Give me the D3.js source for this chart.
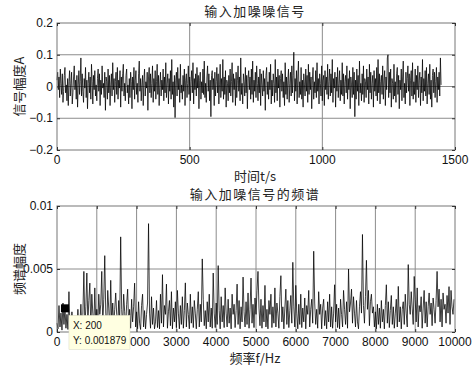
<!DOCTYPE html>
<html>
<head>
<meta charset="utf-8">
<script src="https://cdn.jsdelivr.net/npm/d3@7"></script>
<style>
  body { margin: 0; background: #fff; }
  svg text { font-family: "Liberation Sans", Arial, sans-serif; }
  .cjk { font-family: "Noto Sans CJK SC", sans-serif; }
</style>
</head>
<body>
<svg id="chart" width="474" height="366"></svg>
<script>
// time signal, one sample every 2.5 s, amplitude in units of 0.001
var tStep = 2.5;
var signalMilli = [
  20, 45, -10, 30, -35, 55, 10, -25, 40, -50,
  -15, 35, 60, -20, 5, -45, 25, -60, 15, 50,
  -30, 10, 45, -55, -20, 30, 65, -10, 20, -40,
  35, -65, 5, 50, -25, 15, 90, -30, 40, -15,
  -50, 25, -5, 60, -35, 20, -70, 10, 45, -20,
  30, -40, 70, 15, -55, 35, -10, 50, -30, 5,
  -45, 25, 55, -15, 40, -60, 20, -25, 65, -5,
  10, -35, 45, -75, 30, 15, -40, 55, -20, 35,
  -60, 5, 40, -30, 75, -10, 25, -50, 15, 45,
  -25, 60, -40, 20, -5, 50, -65, 30, -15, 40,
  70, -30, 10, -45, 35, 55, -20, 5, -55, 25,
  -35, 45, 15, -70, 30, -10, 60, -40, 20, 50,
  -25, 10, -50, 40, 80, -15, 25, -45, 5, 35,
  -60, 20, 55, -30, 15, -5, 45, -75, 30, 60,
  -20, 40, -35, 10, 65, -50, 25, -15, 50, -40,
  15, 70, -25, 35, -60, 5, 45, -30, 20, -10,
  55, -45, 30, -20, 75, -35, 10, 40, -55, 25,
  -15, 50, -40, 85, -25, 15, -65, 35, -98, 20,
  45, -30, 60, -10, 25, -50, 70, -20, 5, -40,
  35, -15, 55, -60, 20, 40, -35, 10, 65, -25,
  30, -45, 15, 50, -20, 75, -55, 25, -10, 40,
  -30, 60, -5, 35, -70, 20, 45, -40, 15, -20,
  55, -25, 80, -35, 10, -50, 30, 65, -15, 40,
  -45, 20, -95, 35, 50, -10, 25, -60, 45, -30,
  15, 60, -20, 40, -55, 5, 70, -35, 25, -15,
  85, -40, 30, -25, 50, -65, 20, 10, -45, 35,
  -20, 55, -30, 15, 75, -50, 40, -10, 25, -60,
  45, -35, 20, 65, -15, 30, -45, 90, -25, 10,
  -55, 40, 15, -30, 60, -20, 35, -70, 25, 50,
  -10, 30, -40, 55, -25, 80, -50, 20, -15, 45,
  -35, 65, 10, -45, 30, -20, 55, -60, 40, 5,
  -30, 50, -15, 25, -75, 35, 60, -25, 15, -40,
  45, -10, 70, -55, 20, -30, 40, 10, -50, 85,
  -20, 30, -45, 55, -5, 35, -65, 25, 50, -15,
  40, -35, 15, -60, 75, -25, 30, -40, 20, 55,
  -50, 10, 45, -30, 65, -20, 35, 108, -45, 25,
  -15, 50, -55, 30, 80, -35, 15, -25, 60, -40,
  20, -65, 40, 5, -30, 55, -15, 35, -50, 70,
  -25, 45, -10, 30, -70, 20, 60, -40, 15, -20,
  50, -35, 75, -15, 25, -55, 40, 10, -30, 65,
  -45, 20, 35, -60, 50, -10, 30, -25, 70, -40,
  15, 55, -30, 40, -20, 85, -50, 25, -5, 45,
  -65, 30, -15, 60, -35, 10, 50, -45, 20, -25,
  75, -30, 40, -55, 15, 35, -20, 65, -40, 25,
  -10, 50, -70, 30, 5, -35, 60, -25, 45, -95,
  20, -40, 55, -15, 35, -60, 80, -20, 10, -45,
  40, -25, 65, -50, 25, 15, -35, 55, -10, 30,
  -55, 70, -20, 45, -40, 10, 35, -65, 50, -15,
  25, -30, 60, -45, 85, -20, 40, -55, 15, 35,
  -25, 65, -40, 20, 50, -60, 30, -10, 90, 100,
  -35, 45, -20, 55, -65, 25, 10, -40, 70, -30,
  15, -50, 40, 60, -25, 35, -70, 20, -10, 55,
  -45, 30, 80, -35, 10, -55, 45, -20, 25, 65,
  -15, 40, -60, 20, 50, -30, 75, -40, 15, -25,
  55, -50, 35, -10, 65, -35, 20, 45, -60, 30,
  -20, 85, -45, 25, -15, 50, -30, 60, -55, 10,
  40, -25, 70, -40, 20, -65, 35, 55, -20, 45,
  -35, 15, 60, -50, 30, -10, 45, -30, 90, 5
];

// spectrum, one bin every 25 Hz, magnitude in units of 1e-5
var fStep = 25;
var spectrumE5 = [
  70, 25, 210, 40, 150, 15, 230, 60, 188, 30, 140, 20, 320, 40, 12, 160, 25, 70, 8, 35,
  15, 180, 12, 60, 220, 25, 140, 481, 40, 200, 468, 70, 250, 388, 30, 300, 150, 25, 350, 60,
  180, 40, 300, 140, 220, 481, 50, 260, 606, 150, 35, 330, 190, 25, 410, 70, 230, 40, 180, 310,
  140, 30, 250, 70, 755, 180, 40, 300, 160, 25, 220, 340, 60, 180, 30, 260, 80, 200, 388, 40,
  160, 25, 240, 70, 20, 210, 300, 40, 170, 25, 140, 230, 860, 150, 30, 280, 60, 190, 25, 80,
  250, 35, 170, 25, 300, 70, 455, 40, 210, 140, 380, 30, 160, 250, 50, 320, 25, 190, 80, 240,
  35, 330, 150, 25, 210, 60, 280, 30, 170, 390, 40, 230, 140, 25, 300, 70, 200, 35, 250, 150,
  25, 180, 320, 40, 220, 80, 580, 260, 50, 170, 25, 240, 80, 300, 40, 190, 30, 468, 150, 35,
  230, 60, 527, 170, 25, 280, 80, 210, 35, 350, 150, 40, 260, 70, 190, 25, 300, 140, 220, 35,
  170, 380, 60, 250, 25, 200, 80, 436, 160, 40, 240, 60, 310, 30, 180, 428, 70, 220, 35, 270,
  140, 330, 481, 190, 50, 260, 30, 210, 80, 370, 40, 180, 25, 250, 140, 300, 35, 200, 70, 350,
  40, 230, 150, 30, 280, 447, 80, 200, 25, 190, 340, 60, 250, 35, 170, 290, 70, 553, 200, 40,
  370, 150, 25, 220, 60, 300, 35, 190, 80, 270, 25, 210, 140, 330, 40, 180, 260, 70, 641, 230,
  60, 180, 30, 320, 140, 220, 25, 190, 260, 50, 170, 25, 240, 80, 300, 40, 200, 30, 150, 375,
  80, 220, 35, 190, 25, 260, 140, 40, 330, 180, 60, 240, 30, 500, 160, 230, 340, 70, 280, 150,
  40, 250, 80, 25, 200, 320, 150, 774, 210, 70, 280, 569, 180, 330, 50, 240, 300, 150, 200, 40,
  160, 25, 220, 60, 190, 30, 250, 80, 180, 25, 210, 375, 70, 240, 35, 170, 290, 60, 200, 30,
  150, 260, 40, 362, 80, 200, 25, 180, 240, 60, 300, 150, 40, 535, 220, 140, 320, 190, 60, 441,
  260, 80, 350, 40, 210, 160, 280, 30, 190, 330, 70, 240, 40, 200, 310, 140, 230, 50, 270, 180,
  70, 250, 481, 200, 340, 80, 260, 40, 310, 180, 220, 70, 290, 150, 360, 60, 330, 200, 140, 260
];

var timeTicks = [0, 500, 1000, 1500];
var ampTicks = [-0.2, -0.1, 0, 0.1, 0.2];
var freqTicks = [0, 1000, 2000, 3000, 4000, 5000, 6000, 7000, 8000, 9000, 10000];
var specTicks = [0, 0.005, 0.01];
var tipPoint = { f: 200, v: 0.001879 };

var svg = d3.select("#chart");

// Draw one MATLAB style box axes
function drawPanel(o) {
  var g = svg.append("g");
  var x = d3.scaleLinear().domain(o.xDomain).range([57, 455]);
  var y = d3.scaleLinear().domain(o.yDomain).range([o.bottom, o.top]);

  // grid
  g.selectAll(".vg").data(o.xTicks.slice(1, -1)).enter().append("line")
    .attr("x1", d => x(d)).attr("x2", d => x(d))
    .attr("y1", o.top).attr("y2", o.bottom)
    .attr("stroke", "#8c8c8c").attr("stroke-width", 1);
  g.selectAll(".hg").data(o.yTicks.slice(1, -1)).enter().append("line")
    .attr("x1", 57).attr("x2", 455)
    .attr("y1", d => y(d)).attr("y2", d => y(d))
    .attr("stroke", "#8c8c8c").attr("stroke-width", 1);

  // data line
  var line = d3.line().x(d => x(d[0])).y(d => y(d[1]));
  g.append("path").datum(o.points)
    .attr("d", line)
    .attr("fill", "none")
    .attr("stroke", "#000")
    .attr("stroke-width", 0.75);

  // box
  g.append("rect")
    .attr("x", 57).attr("y", o.top)
    .attr("width", 398).attr("height", o.bottom - o.top)
    .attr("fill", "none").attr("stroke", "#777").attr("stroke-width", 1);

  // ticks inside, all four sides
  var xb = d3.axisBottom(x).tickValues(o.xTicks).tickSize(-3).tickFormat("");
  var xt = d3.axisTop(x).tickValues(o.xTicks).tickSize(-3).tickFormat("");
  var yl = d3.axisLeft(y).tickValues(o.yTicks).tickSize(-3).tickFormat("");
  var yr = d3.axisRight(y).tickValues(o.yTicks).tickSize(-3).tickFormat("");
  [[xb, "translate(0," + o.bottom + ")"], [xt, "translate(0," + o.top + ")"],
   [yl, "translate(57,0)"], [yr, "translate(455,0)"]].forEach(function (a) {
    var ax = g.append("g").attr("transform", a[1]).call(a[0]);
    ax.select(".domain").remove();
    ax.selectAll(".tick line").attr("stroke", "#333");
  });

  // tick labels
  g.selectAll(".xl").data(o.xTicks).enter().append("text")
    .attr("x", d => x(d)).attr("y", o.bottom + 14)
    .attr("text-anchor", "middle").attr("font-size", 12).attr("fill", "#111")
    .text(d => d);
  g.selectAll(".yl").data(o.yTicks).enter().append("text")
    .attr("x", 53).attr("y", d => y(d) + 4)
    .attr("text-anchor", "end").attr("font-size", 12).attr("fill", "#111")
    .text(o.yFormat);

  // titles
  g.append("text").attr("class", "cjk")
    .attr("x", 255).attr("y", o.top - 7)
    .attr("text-anchor", "middle").attr("font-size", 13).attr("letter-spacing", 1.5)
    .attr("fill", "#222").text(o.title);
  g.append("text").attr("class", "cjk")
    .attr("x", 255).attr("y", o.bottom + 31)
    .attr("text-anchor", "middle").attr("font-size", 13).attr("fill", "#222")
    .text(o.xLabel);
  g.append("text").attr("class", "cjk")
    .attr("transform", "translate(24," + ((o.top + o.bottom) / 2) + ") rotate(-90)")
    .attr("text-anchor", "middle").attr("font-size", 13).attr("fill", "#222")
    .text(o.yLabel);

  return { x: x, y: y, g: g };
}

drawPanel({
  top: 23, bottom: 150,
  xDomain: [0, 1500], yDomain: [-0.2, 0.2],
  xTicks: timeTicks, yTicks: ampTicks,
  yFormat: d => d === 0 ? "0" : d3.format(".1f")(d),
  points: signalMilli.map((v, i) => [i * tStep, v / 1000]),
  title: "输入加噪噪信号", xLabel: "时间t/s", yLabel: "信号幅度A"
});

var spec = drawPanel({
  top: 206, bottom: 332,
  xDomain: [0, 10000], yDomain: [0, 0.01],
  xTicks: freqTicks, yTicks: specTicks,
  yFormat: d => d === 0 ? "0" : String(d),
  points: spectrumE5.map((v, i) => [i * fStep, v / 100000]),
  title: "输入加噪信号的频谱", xLabel: "频率f/Hz", yLabel: "频谱幅度"
});

// data tip
var px = spec.x(tipPoint.f), py = spec.y(tipPoint.v);
svg.append("rect")
  .attr("x", px - 4).attr("y", py - 4).attr("width", 8).attr("height", 8)
  .attr("fill", "#000");
svg.append("rect")
  .attr("x", px + 4).attr("y", py + 7).attr("width", 61).attr("height", 34)
  .attr("fill", "#ffffe1").attr("stroke", "#d8d8c0").attr("stroke-width", 0.5);
svg.append("text")
  .attr("x", px + 8).attr("y", py + 21).attr("font-size", 10).attr("fill", "#111")
  .text("X: " + tipPoint.f);
svg.append("text")
  .attr("x", px + 8).attr("y", py + 36).attr("font-size", 10).attr("fill", "#111")
  .text("Y: " + tipPoint.v);
</script>
</body>
</html>
